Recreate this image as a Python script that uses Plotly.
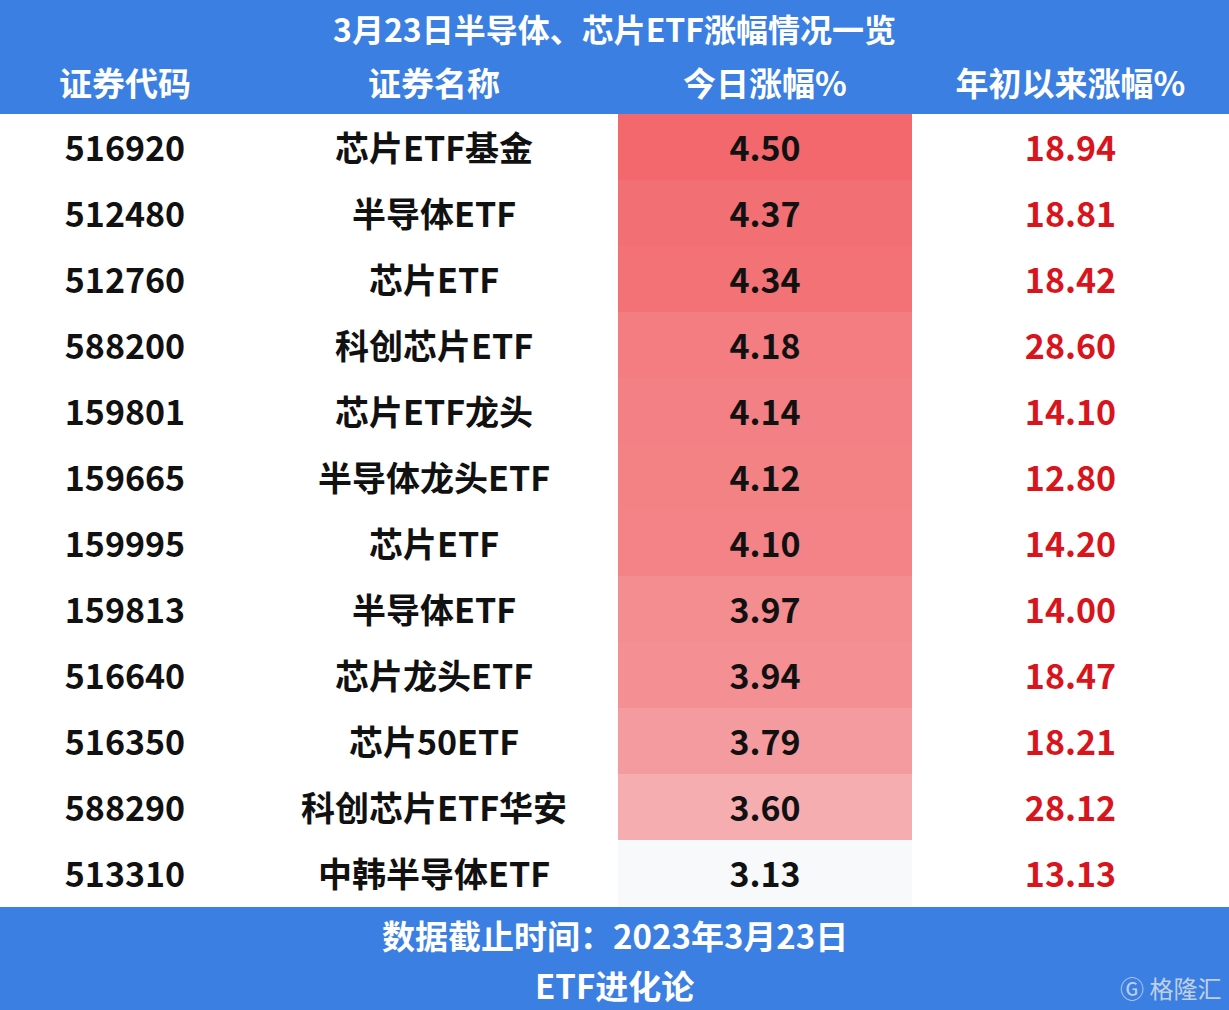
import plotly.graph_objects as go

title = "3月23日半导体、芯片ETF涨幅情况一览"
columns = ["证券代码", "证券名称", "今日涨幅%", "年初以来涨幅%"]
codes = ["516920","512480","512760","588200","159801","159665","159995","159813","516640","516350","588290","513310"]
names = ["芯片ETF基金","半导体ETF","芯片ETF","科创芯片ETF","芯片ETF龙头","半导体龙头ETF","芯片ETF","半导体ETF","芯片龙头ETF","芯片50ETF","科创芯片ETF华安","中韩半导体ETF"]
today = [4.50,4.37,4.34,4.18,4.14,4.12,4.10,3.97,3.94,3.79,3.60,3.13]
ytd = [18.94,18.81,18.42,28.60,14.10,12.80,14.20,14.00,18.47,18.21,28.12,13.13]
footer1 = "数据截止时间：2023年3月23日"
footer2 = "ETF进化论"

W, H = 1229, 1010
BLUE = "#3b7fe2"
FONT = "Noto Sans CJK SC"

lo, hi = min(today), max(today)
c_lo, c_hi = (248, 249, 251), (242, 104, 108)
def col(v):
    t = (v - lo) / (hi - lo)
    t = t ** 0.6
    return "rgb(%d,%d,%d)" % tuple(round(a + (b - a) * t) for a, b in zip(c_lo, c_hi))

today_colors = [col(v) for v in today]
n = len(codes)
fig = go.Figure(go.Table(
    columnwidth=[250, 368, 294, 317],
    domain=dict(x=[0, 1], y=[(H - 908) / H, (H - 50) / H]),
    header=dict(values=["<b>%s</b>" % c for c in columns], fill_color=BLUE,
                line=dict(color=BLUE, width=0), height=57, align="center",
                font=dict(family=FONT, size=33, color="white")),
    cells=dict(values=[["<b>%s</b>" % c for c in codes],
                       ["<b>%s</b>" % s for s in names],
                       ["<b>%.2f</b>" % v for v in today],
                       ["<b>%.2f</b>" % v for v in ytd]],
               fill_color=[["white"] * n, ["white"] * n, today_colors, ["white"] * n],
               line=dict(color="rgba(0,0,0,0)", width=0), height=66, align="center",
               font=dict(family=FONT, size=34,
                         color=[["#111"] * n, ["#111"] * n, ["#111"] * n, ["#d8141c"] * n])),
))
fig.add_shape(type="rect", xref="paper", yref="paper", x0=0, x1=1, y0=(H - 58) / H, y1=1,
              fillcolor=BLUE, line_width=0, layer="below")
fig.add_shape(type="rect", xref="paper", yref="paper", x0=0, x1=1, y0=0, y1=(H - 907) / H,
              fillcolor=BLUE, line_width=0)
fig.add_annotation(text="<b>%s</b>" % title, x=0.5, y=(H - 28) / H, xref="paper", yref="paper",
                   yanchor="middle", showarrow=False, font=dict(family=FONT, size=32, color="white"))
fig.add_annotation(text="<b>%s</b>" % footer1, x=0.5, y=(H - 935) / H, xref="paper", yref="paper",
                   yanchor="middle", showarrow=False, font=dict(family=FONT, size=33, color="white"))
fig.add_annotation(text="<b>%s</b>" % footer2, x=0.5, y=(H - 985) / H, xref="paper", yref="paper",
                   yanchor="middle", showarrow=False, font=dict(family=FONT, size=33, color="white"))
fig.add_annotation(text="Ⓖ 格隆汇", x=0.995, y=(H - 987) / H, xref="paper", yref="paper",
                   xanchor="right", yanchor="middle", showarrow=False,
                   font=dict(family=FONT, size=24, color="rgba(230,230,230,0.8)"))
fig.update_layout(width=W, height=H, margin=dict(l=0, r=0, t=0, b=0),
                  paper_bgcolor="white")
fig.write_html("out.html", config={"displayModeBar": False},
               post_script="document.body.style.margin='0';document.body.style.overflow='hidden';")
